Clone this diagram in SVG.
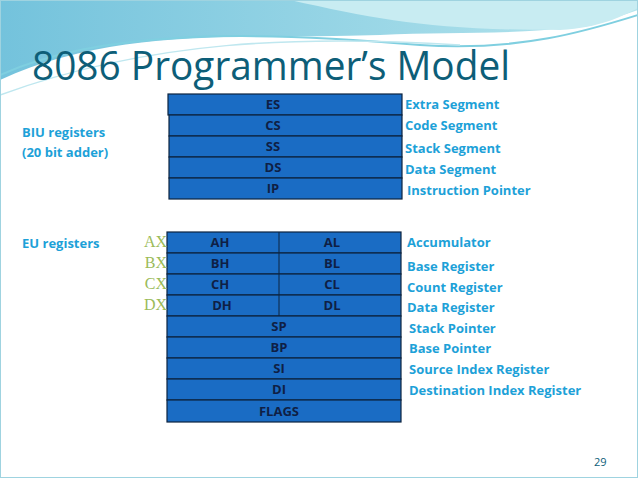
<svg xmlns="http://www.w3.org/2000/svg" width="638" height="478" viewBox="0 0 638 478">
<defs>
<linearGradient id="w" x1="0" y1="0" x2="1" y2="0"><stop offset="0" stop-color="#5bb8d6"/><stop offset="1" stop-color="#a8e0ea"/></linearGradient>
</defs>
<style>
.r{fill:#1a6cc4;stroke:#0d2440;stroke-width:1.2}
.t{font-family:"Open Sans","Liberation Sans",sans-serif;font-weight:bold;font-size:13px;fill:#0f1f45;text-anchor:middle}
.l{font-family:"Open Sans","Liberation Sans",sans-serif;font-weight:bold;font-size:13px;fill:#1da1d8}
.x{font-family:"Liberation Serif",serif;font-size:16px;fill:#9bbb59;text-anchor:end}
</style>
<rect width="638" height="478" fill="#fff"/>
<g id="bg">
<path d="M0 0 H638 V10 C560 40 470 30 380 35 C250 40 120 25 0 80 Z" fill="url(#w)" opacity="0.85"/>
<path d="M290 0 C380 20 430 30 560 30 C600 28 625 15 638 8 V0 Z" fill="#c8ecf2"/>
<path d="M0 75 C100 30 250 30 420 45 C520 52 590 30 638 15" fill="none" stroke="#7fcfe0" stroke-width="2"/>
<path d="M0 95 C150 40 300 35 460 45" fill="none" stroke="#bfe7ef" stroke-width="1.5"/>
<rect x="0.5" y="0.5" width="637" height="477" fill="none" stroke="#9fd3e0"/>
</g>
<text x="32" y="80" font-family="'Open Sans','Liberation Sans',sans-serif" font-size="40" fill="#0d5e78" textLength="478" lengthAdjust="spacingAndGlyphs">8086 Programmer’s Model</text>
<g id="biu" font-family="'Open Sans','Liberation Sans',sans-serif" font-weight="bold" font-size="13" fill="#1da1d8">
<text x="22" y="137">BIU registers</text><text x="22" y="157">(20 bit adder)</text>
<text x="22" y="248">EU registers</text>
</g>
<g id="ES"><rect class="r" x="168" y="94" width="234" height="21"/><text class="t" x="273" y="109">ES</text><text class="l" x="405" y="109">Extra Segment</text></g>
<g id="CS"><rect class="r" x="169" y="115" width="233" height="21"/><text class="t" x="273" y="130">CS</text><text class="l" x="405" y="130">Code Segment</text></g>
<g id="SS"><rect class="r" x="169" y="136" width="233" height="21"/><text class="t" x="273" y="151">SS</text><text class="l" x="405" y="153">Stack Segment</text></g>
<g id="DS"><rect class="r" x="169" y="157" width="233" height="21"/><text class="t" x="273" y="172">DS</text><text class="l" x="405" y="174">Data Segment</text></g>
<g id="IP"><rect class="r" x="169" y="178" width="233" height="21"/><text class="t" x="273" y="193">IP</text><text class="l" x="407" y="195">Instruction Pointer</text></g>
<g id="AX"><rect class="r" x="167" y="232" width="234" height="21"/><line x1="279" y1="232" x2="279" y2="253" stroke="#0d2440"/><text class="t" x="220" y="247">AH</text><text class="t" x="332" y="247">AL</text><text class="x" x="167" y="247">AX</text><text class="l" x="407" y="247">Accumulator</text></g>
<g id="BX"><rect class="r" x="167" y="253" width="234" height="21"/><line x1="279" y1="253" x2="279" y2="274" stroke="#0d2440"/><text class="t" x="220" y="268">BH</text><text class="t" x="332" y="268">BL</text><text class="x" x="167" y="268">BX</text><text class="l" x="407" y="271">Base Register</text></g>
<g id="CX"><rect class="r" x="167" y="274" width="234" height="21"/><line x1="279" y1="274" x2="279" y2="295" stroke="#0d2440"/><text class="t" x="220" y="289">CH</text><text class="t" x="332" y="289">CL</text><text class="x" x="167" y="289">CX</text><text class="l" x="407" y="292">Count Register</text></g>
<g id="DX"><rect class="r" x="167" y="295" width="234" height="21"/><line x1="279" y1="295" x2="279" y2="316" stroke="#0d2440"/><text class="t" x="222" y="310">DH</text><text class="t" x="332" y="310">DL</text><text class="x" x="167" y="310">DX</text><text class="l" x="407" y="312">Data Register</text></g>
<g id="SP"><rect class="r" x="167" y="316" width="234" height="21"/><text class="t" x="279" y="331">SP</text><text class="l" x="409" y="333">Stack Pointer</text></g>
<g id="BP"><rect class="r" x="167" y="337" width="234" height="21"/><text class="t" x="279" y="352">BP</text><text class="l" x="409" y="353">Base Pointer</text></g>
<g id="SI"><rect class="r" x="167" y="358" width="234" height="21"/><text class="t" x="279" y="373">SI</text><text class="l" x="409" y="374">Source Index Register</text></g>
<g id="DI"><rect class="r" x="167" y="379" width="234" height="21"/><text class="t" x="279" y="394">DI</text><text class="l" x="409" y="395">Destination Index Register</text></g>
<g id="FLAGS"><rect class="r" x="167" y="400" width="234" height="22"/><text class="t" x="279" y="416">FLAGS</text></g>
<g id="connectors"/>
<text x="594" y="466" font-family="'Open Sans','Liberation Sans',sans-serif" font-size="11" fill="#0d5e78">29</text>
</svg>
